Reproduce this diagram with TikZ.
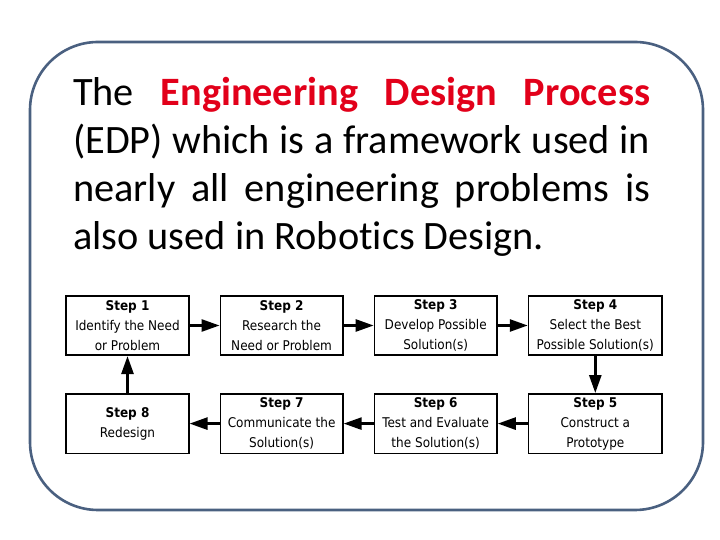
\documentclass[tikz,border=0pt]{standalone}
\usepackage{fontspec}
\setmainfont{Carlito}[RawFeature=-liga]
\newfontfamily\boxfont{DejaVu Sans Condensed}
\usepackage{tikz}
\usetikzlibrary{positioning, arrows.meta}
\definecolor{frameBlue}{RGB}{74,96,128}
\definecolor{edpRed}{RGB}{226,0,26}
\tikzstyle{stepbox} = [rectangle, draw=black, line width=1.6pt, minimum width=122.5pt, minimum height=59.5pt, inner sep=2pt, align=center, font=\boxfont\fontsize{13.4}{20}\selectfont]
\tikzstyle{arrow} = [line width=2.6pt, -{Triangle[length=18pt,width=12pt]}]

\begin{document}
\begin{tikzpicture}[x=1pt, y=1pt, node distance=30pt]
    \useasboundingbox (0,0) rectangle (720,540);
    % frame
    \draw [frameBlue, line width=2.6pt, rounded corners=68pt] (30,30) rectangle (703,498);
    % heading
    \node (heading) [anchor=base west, inner sep=0pt, text width=577pt, align=justify, font=\fontsize{40.3}{48}\selectfont] at (73,434)
        {The \textcolor{edpRed}{\textbf{Engineering Design Process}}\linebreak
         (EDP) which is a framework used in\linebreak
         nearly all engineering problems is\linebreak
         also used in Robotics Design.};
    % top row
    \node (step1) [stepbox] at (127.5,214.5) {\textbf{Step 1}\\Identify the Need\\or Problem};
    \node (step2) [stepbox, right=of step1] {\textbf{Step 2}\\Research the\\Need or Problem};
    \node (step3) [stepbox, right=of step2] {\textbf{Step 3}\\Develop Possible\\Solution(s)};
    \node (step4) [stepbox, right=of step3, minimum width=133.5pt] {\textbf{Step 4}\\Select the Best\\Possible Solution(s)};
    % bottom row
    \node (step5) [stepbox, below=37pt of step4, minimum width=133.5pt] {\textbf{Step 5}\\Construct a\\Prototype};
    \node (step6) [stepbox, left=of step5] {\textbf{Step 6}\\Test and Evaluate\\the Solution(s)};
    \node (step7) [stepbox, left=of step6] {\textbf{Step 7}\\Communicate the\\Solution(s)};
    \node (step8) [stepbox, left=of step7] {\textbf{Step 8}\\Redesign};

    \draw [arrow] (step1) -- (step2);
    \draw [arrow] (step2) -- (step3);
    \draw [arrow] (step3) -- (step4);
    \draw [arrow] (step4) -- (step5);
    \draw [arrow] (step5) -- (step6);
    \draw [arrow] (step6) -- (step7);
    \draw [arrow] (step7) -- (step8);
    \draw [arrow] (step8) -- (step1);
\end{tikzpicture}
\end{document}
